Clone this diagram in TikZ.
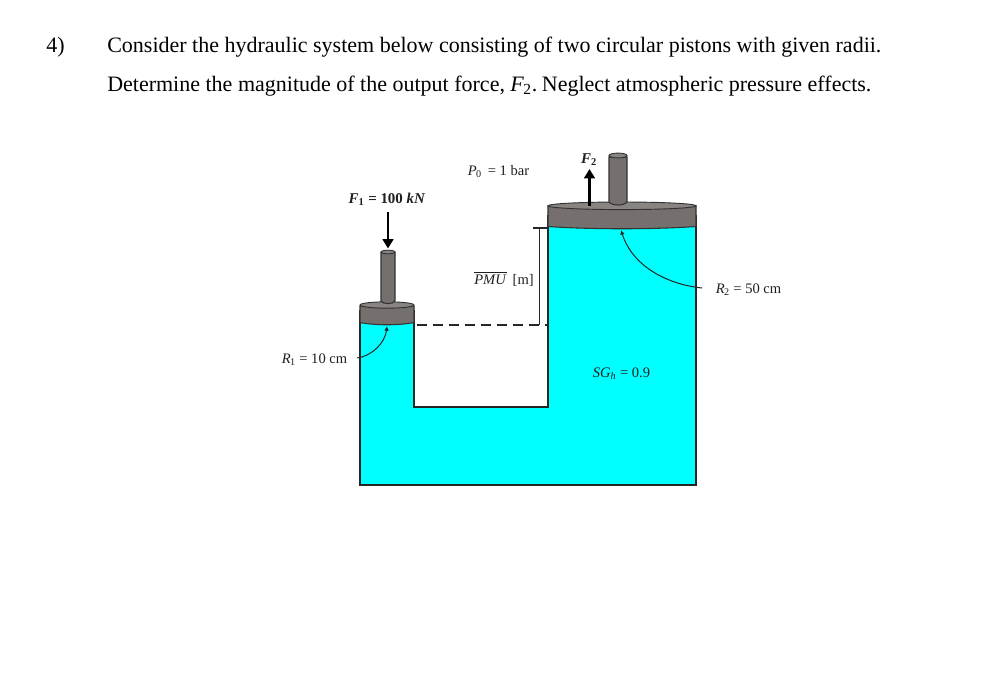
\documentclass[tikz,border=0pt]{standalone}
\usepackage{fontspec}
\setmainfont{Liberation Serif}
\usetikzlibrary{arrows.meta}
\definecolor{oil}{RGB}{0,255,255}
\definecolor{steel}{RGB}{117,112,110}
\definecolor{steellight}{RGB}{136,132,130}
\newcommand{\vr}[2]{\textit{#1}\textsubscript{\kern-0.5pt #2}}
\tikzset{
  titletext/.style={anchor=base west,inner sep=0pt,font=\fontsize{16.5}{19}\selectfont},
  lab/.style={anchor=base,inner sep=0pt,font=\fontsize{10.9}{12}\selectfont,text=black!88},
  boldlab/.style={anchor=base,inner sep=0pt,font=\fontsize{11.2}{12}\selectfont\bfseries,text=black!88},
  wall/.style={draw=black!85,line width=1.3pt,line join=miter},
  pistonpart/.style={draw=black!80,line width=0.8pt,fill=steel},
  pistoncap/.style={draw=black!80,line width=0.7pt,fill=steellight},
  force/.style={draw=black,line width=2.2pt,-{Triangle[length=7pt,width=8pt]}},
  leader/.style={draw=black!85,line width=0.75pt,-{Latex[length=3.5pt,width=3.5pt]}},
  dimline/.style={draw=black!85,line width=1.1pt},
  levelline/.style={draw=black!85,line width=1.1pt,dash pattern=on 7.5pt off 4.5pt}
}
\begin{document}
\begin{tikzpicture}[x=0.75pt,y=-0.75pt]
\useasboundingbox (0,0) rectangle (994,685);
\fill[white] (0,0) rectangle (994,685);
% question text
\node[titletext] (num) at (46,53) {4)};
\node[titletext] (line1) at (107,53) {Consider the hydraulic system below consisting of two circular pistons with given radii.};
\node[titletext] (line2) at (107,91) {Determine the magnitude of the output force, \vr{F}{2}.\kern-2pt{} Neglect atmospheric pressure effects.};
% fluid body
\path[fill=oil] (360,310) -- (414,310) -- (414,407) -- (548,407) -- (548,215) -- (696,215) -- (696,485) -- (360,485) -- cycle;
\draw[wall] (360,310) -- (360,485) -- (696,485) -- (696,215);
\draw[wall] (414,310) -- (414,407) -- (548,407) -- (548,215);
% large piston
\path[pistonpart] (548,206) -- (548,226.5) .. controls (590,229.5) and (654,229.5) .. (696,226.5) -- (696,206) -- cycle;
\draw[pistoncap] (622,205.8) ellipse [x radius=74,y radius=3.8];
\path[pistonpart] (609,157) -- (609,202) .. controls (612,206) and (624,206) .. (627,202) -- (627,157) -- cycle;
\draw[pistoncap] (618,155.5) ellipse [x radius=9,y radius=2.4];
% small piston
\path[pistonpart] (360,306) -- (360,322.5) .. controls (375,325.5) and (399,325.5) .. (414,322.5) -- (414,306) -- cycle;
\draw[pistoncap] (387,305) ellipse [x radius=27,y radius=3.2];
\path[pistonpart] (381,252.5) -- (381,301) .. controls (383,304.5) and (393,304.5) .. (395,301) -- (395,252.5) -- cycle;
\draw[pistoncap] (388,252) ellipse [x radius=7,y radius=1.8];
% anchors
\coordinate (f1a) at (388,212);
\coordinate (f1b) at (388,248.5);
\coordinate (f2a) at (589.5,205.5);
\coordinate (f2b) at (589.5,169);
\coordinate (r1a) at (357,358);
\coordinate (r1b) at (387,326);
\coordinate (r2a) at (702,288);
\coordinate (r2b) at (621,230);
\coordinate (dtopl) at (533,228);
\coordinate (dtopr) at (548,228);
\coordinate (dtop) at (539.5,228);
\coordinate (dbot) at (539.5,325);
\coordinate (levl) at (416.5,325);
\coordinate (levr) at (548,325);
% connectors
\draw[force] (f1a) -- (f1b);
\draw[force] (f2a) -- (f2b);
\draw[leader] (r1a) .. controls (372,356) and (385,343) .. (r1b);
\draw[leader] (r2a) .. controls (665,284) and (632,265) .. (r2b);
\draw[dimline] (dtopl) -- (dtopr);
\draw[dimline] (dtop) -- (dbot);
\draw[levelline] (levl) -- (levr);
% labels
\node[boldlab] (f1lab) at (387,203) {\textit{F}\textsubscript{1} = 100 \textit{kN}};
\node[boldlab] (f2lab) at (589,163) {\textit{F}\textsubscript{2}};
\node[lab] (p0lab) at (498.5,175) {\vr{P}{0}\, = 1 bar};
\node[lab] (pmulab) at (504,284) {$\overline{\hbox{\textit{PMU}}}$\, [m]};
\node[lab] (r1lab) at (314.5,363) {\vr{R}{1} = 10 cm};
\node[lab] (r2lab) at (748.5,293) {\vr{R}{2} = 50 cm};
\node[lab] (sglab) at (621.5,377) {\textit{SG}\textsubscript{\textit{h}} = 0.9};
\end{tikzpicture}
\end{document}
